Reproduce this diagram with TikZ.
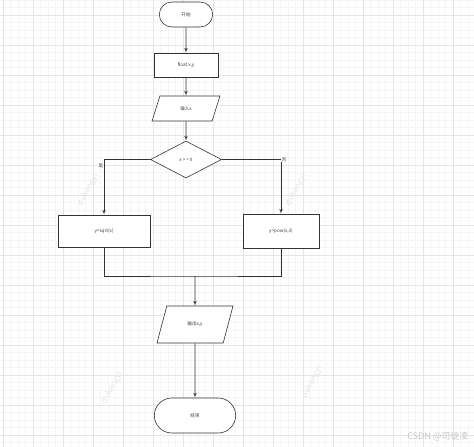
\documentclass[tikz,border=0pt]{standalone}
\usepackage{fontspec}
\setmainfont{Noto Sans CJK SC}
\usepackage{tikz}
\usetikzlibrary{shapes,arrows,positioning}
\tikzstyle{terminal} = [draw, fill=white, rounded rectangle, minimum height=25pt, minimum width=60pt]
\tikzstyle{block} = [draw, fill=white, rectangle, minimum height=24pt, minimum width=64pt]
\tikzstyle{io} = [draw, fill=white, trapezium, trapezium left angle=76, trapezium right angle=104,
    trapezium stretches=true, minimum height=25pt, minimum width=68pt]
\tikzstyle{decision} = [draw, fill=white, diamond, aspect=1.9, minimum width=71pt, minimum height=37pt, inner sep=0pt]
\tikzstyle{branch} = [fill=white, inner sep=0.6pt]
\tikzstyle{wmark} = [text=gray!20, rotate=62, font=\fontsize{8}{9}\selectfont]

\begin{document}
\begin{tikzpicture}[x=1pt, y=-1pt, auto, >=latex', line width=0.6pt, color=black!80,
    every node/.append style={font=\fontsize{4.6}{5.5}\selectfont, text=black!75}]
    \useasboundingbox (0,0) rectangle (474,447);
    % background grid
    \foreach \gx in {-4.5,3,...,474} \draw[gray!8, line width=0.3pt] (\gx,0) -- (\gx,447);
    \foreach \gy in {0,7.5,...,447} \draw[gray!8, line width=0.3pt] (0,\gy) -- (474,\gy);
    \foreach \gx in {3,33,...,474} \draw[gray!20, line width=0.4pt] (\gx,0) -- (\gx,447);
    \foreach \gy in {15,45,...,447} \draw[gray!20, line width=0.4pt] (0,\gy) -- (474,\gy);
    % watermarks
    \node[wmark] (wm1) at (88,190) {dukangyi};
    \node[wmark] (wm2) at (296,190) {dukangyi};
    \node[wmark] (wm3) at (112,388) {dukangyi};
    \node[wmark] (wm4) at (312,382) {dukangyi};
    % the flow chart blocks
    \node [terminal] (start) at (186,14.5) {开始};
    \node [block, below of=start, node distance=50.5pt] (decl) {float x,y};
    \node [io, below of=decl, node distance=43.5pt] (input) {输入x};
    \node [decision, below of=input, node distance=51pt] (test) {x > = 0};
    \node [block, minimum width=92pt, minimum height=32pt] (sqrt) at (104,231) {y=sqrt(x)};
    \node [block, minimum width=76pt, minimum height=34pt] (pow) at (281,231) {y=pow(x,3)};
    \coordinate (join) at (195,276);
    \node [io, trapezium left angle=72, trapezium right angle=108,
        minimum width=76pt, minimum height=37pt] (output) at (195,324.5) {输出x,y};
    \node [terminal, minimum width=88pt, minimum height=35pt] (stop) at (195,415.5) {结束};
    % connectors
    \draw [->] (start) -- (decl);
    \draw [->] (decl) -- (input);
    \draw [->] (input) -- (test);
    \draw [->] (test.west) -| node[branch, pos=0.554, swap] {是} (sqrt.north);
    \draw [->] (test.east) -| node[branch, pos=0.5] {否} (pow.north);
    \draw (sqrt.south) |- (join) -| (pow.south);
    \draw [->] (join) -- (output);
    \draw [->] (output) -- (stop);
    % site mark
    \node [text=gray!45, font=\fontsize{9}{10}\selectfont, anchor=south east] (csdn) at (472,445) {CSDN @司徒凌};
\end{tikzpicture}
\end{document}
